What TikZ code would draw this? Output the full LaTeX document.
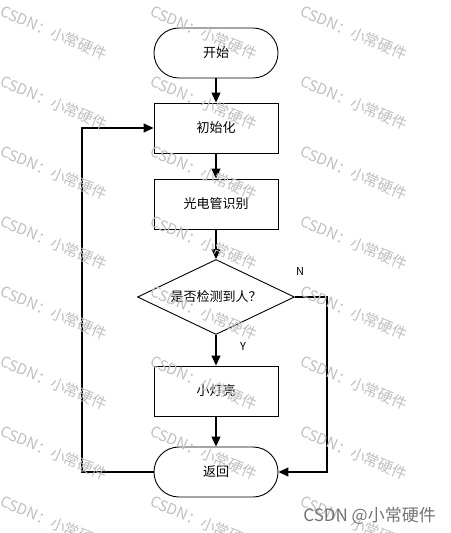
\documentclass[tikz,border=0pt]{standalone}
\usepackage{fontspec}
\setmainfont{Noto Sans CJK SC}
\usetikzlibrary{arrows.meta,shapes.geometric,positioning,calc}

\begin{document}
\begin{tikzpicture}[x=1pt,y=-1pt,
    every node/.style={font=\fontsize{13}{15}\selectfont},
    terminal/.style={draw, line width=0.9pt, rounded corners=24.9pt, fill=white,
      minimum width=124pt, minimum height=50pt},
    process/.style={draw, line width=0.9pt, fill=white,
      minimum width=124pt, minimum height=50pt},
    decision/.style={draw, diamond, line width=0.9pt, fill=white, inner sep=0pt,
      aspect=2.1, minimum width=157pt, minimum height=75pt},
    flow/.style={line width=1.1pt, -{Triangle[length=10pt,width=9pt]}},
    watermark/.style={text=black!25, font=\fontsize{15}{17}\selectfont,
      rotate=-23, anchor=north west, inner sep=0pt}]
  % Page size
  \useasboundingbox (0,0) rectangle (450,533);

  % Define column and row positions
  \def\colx{216}
  \def\leftx{82}
  \def\rightx{327}

  % Flow chart nodes
  \node[terminal] (start) at (\colx,53) {开始};
  \node[process] (init) at (\colx,128) {初始化};
  \node[process] (sense) at (\colx,204) {光电管识别};
  \node[decision] (check) at (\colx,297) {是否检测到人？};
  \node[process] (lamp) at (\colx,391) {小灯亮};
  \node[terminal] (back) at (\colx,472) {返回};

  % Straight arrows down the column
  \draw[flow] (start) -- (init);
  \draw[flow] (init) -- (sense);
  \draw[flow] (sense) -- (check);
  \draw[flow] (check) -- (lamp);
  \draw[flow] (lamp) -- (back);

  % Loop back to init, and the N branch
  \coordinate (loopleft) at (\leftx,0);
  \coordinate (loopright) at (\rightx,0);
  \draw[flow] (back.west) -- (back.west -| loopleft) |- (init.west);
  \draw[flow] (check.east) -- (check.east -| loopright) |- (back.east);

  % Branch labels
  \node[font=\fontsize{11}{13}\selectfont] (ylabel) at (243,346) {Y};
  \node[font=\fontsize{11}{13}\selectfont] (nlabel) at (300,271) {N};

  % Watermark tiles
  \foreach \cx in {0,150,300} {
    \foreach \cy in {0,...,7} {
      \node[watermark] at (\cx+4, \cy*70+4) {CSDN：小常硬件};
    }
  }
  \node[text=black!55, font=\fontsize{17}{19}\selectfont, anchor=east, inner sep=0pt]
    (mark) at (436,516) {CSDN @小常硬件};
\end{tikzpicture}
\end{document}
